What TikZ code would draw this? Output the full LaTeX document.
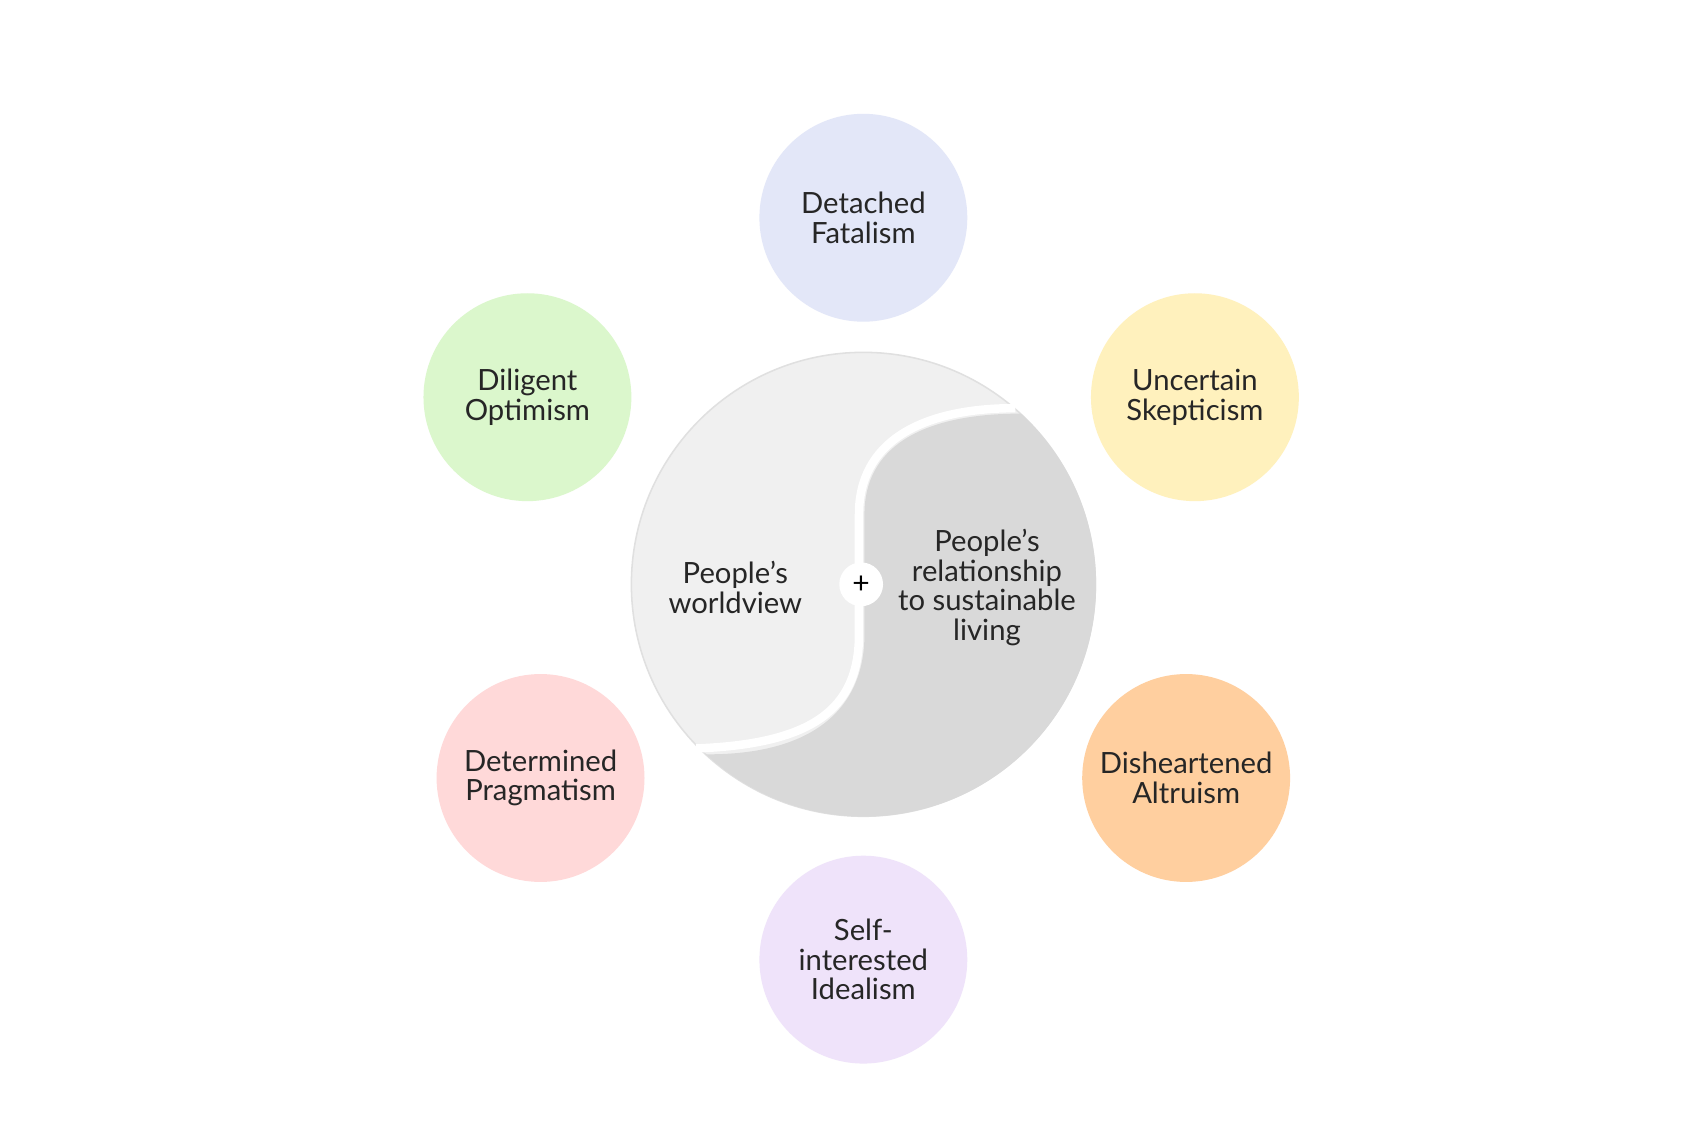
\documentclass[tikz,border=0pt]{standalone}
\usepackage{fontspec}
\setmainfont{Lato}
\begin{document}
\begin{tikzpicture}[x=0.01cm,y=-0.01cm,
  bub/.style={circle,minimum size=190*0.01cm,inner sep=0pt,align=center,font=\fontsize{7.6}{7.7}\selectfont,text=black!85},
  lbl/.style={align=center,font=\fontsize{7.6}{7.7}\selectfont,text=black!85}]
\useasboundingbox[fill=white] (0,0) rectangle (1560,1040);
\definecolor{cb}{HTML}{E3E7F8}\definecolor{cg}{HTML}{DBF7CC}\definecolor{cy}{HTML}{FFF1BD}
\definecolor{cp}{HTML}{FFD9D9}\definecolor{co}{HTML}{FFCF9F}\definecolor{cv}{HTML}{EFE3FA}
\node[bub,fill=cb] (df) at (789,199) {Detached\\Fatalism};
\node[bub,fill=cg] (dO) at (482,363) {Diligent\\Optimism};
\node[bub,fill=cy] (us) at (1092,363) {Uncertain\\Skepticism};
\node[bub,fill=cp] (dp) at (494,711) {Determined\\Pragmatism};
\node[bub,fill=co] (da) at (1084,711) {Disheartened\\Altruism};
\node[bub,fill=cv] (si) at (789,877) {Self-\\interested\\Idealism};
\fill[fill=black!6,draw=black!12] (789,534) circle (212);
\fill[black!15] (933,378) arc[start angle=-47.5,end angle=133,radius=212] .. controls (740,690) and (790,650) .. (790,580) -- (790,470) .. controls (790,410) and (840,378) .. (933,378) -- cycle;
\draw[white,line width=2.2pt] (636,684) .. controls (740,680) and (785,650) .. (785,580) -- (785,470) .. controls (785,405) and (840,373) .. (928,373);
\node[circle,fill=white,minimum size=40*0.01cm,inner sep=0pt,font=\fontsize{7.8}{8}\selectfont] (plus) at (787,534) {+};
\node[lbl] (w) at (672,537) {People’s\\worldview};
\node[lbl] (r) at (902,537) {People’s\\relationship\\to sustainable\\living};
\end{tikzpicture}
\end{document}
